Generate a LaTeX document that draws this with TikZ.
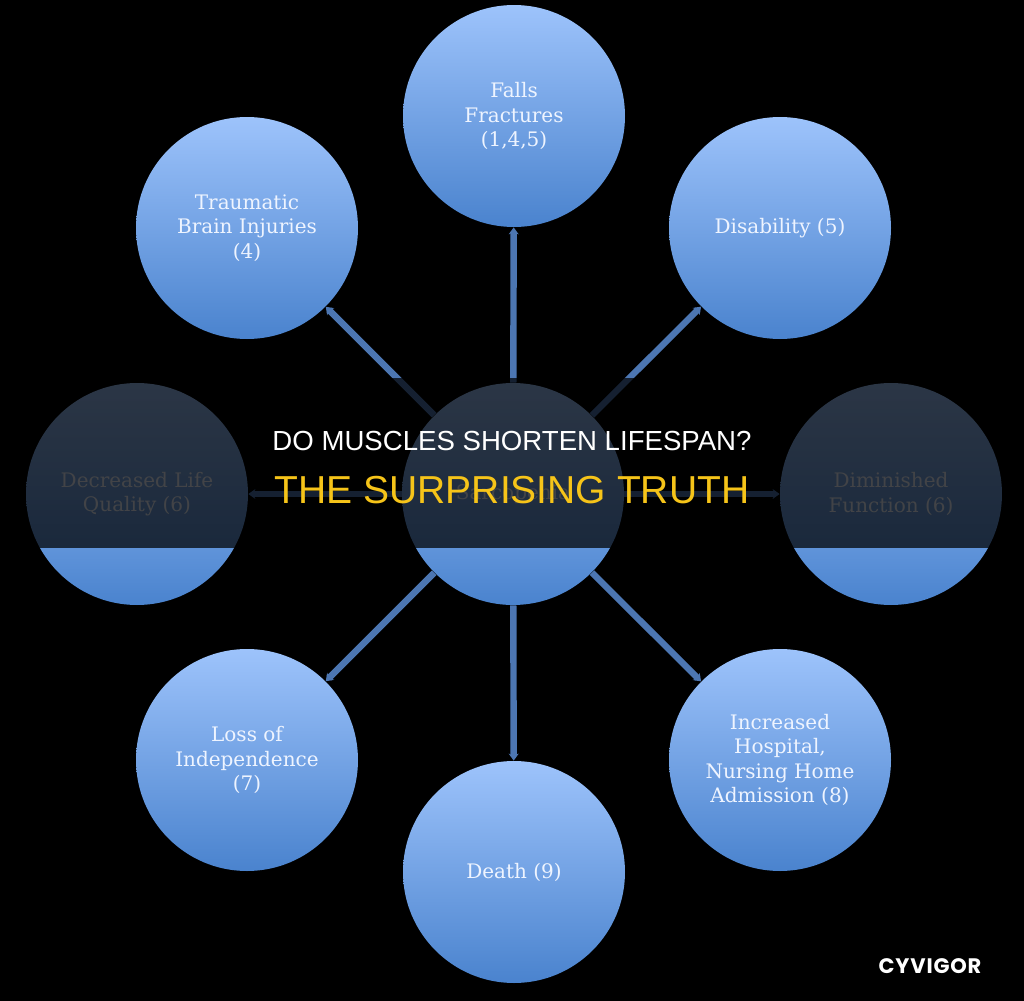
\documentclass[tikz,border=0pt]{standalone}
\usepackage{fontspec}
\setmainfont{DejaVu Serif}
\newfontfamily\titlefont{Liberation Sans}
\newfontfamily\markfont{Poppins}[LetterSpace=4]
\usetikzlibrary{arrows.meta}
\definecolor{bubbletop}{HTML}{9DC3FB}
\definecolor{bubblebot}{HTML}{4A83CE}
\definecolor{bubbletext}{HTML}{EEF4FF}
\definecolor{linkblue}{HTML}{4C76B2}
\definecolor{titleyellow}{HTML}{F6C419}

\begin{document}
\begin{tikzpicture}[x=0.5pt,y=-0.5pt,
    bubble/.style={circle, minimum size=111pt, inner sep=0pt,
      top color=bubbletop, bottom color=bubblebot, text=bubbletext,
      align=center, font=\fontsize{10}{12.2}\selectfont},
    link/.style={linkblue, line width=3.2pt, -{Stealth[length=3.5pt,width=5pt]}}]
  %——————————————————————————————————————————————
  % Fondo negro (fija el tamaño)
  %——————————————————————————————————————————————
  \fill[black] (0,0) rectangle (1024,1001);
  \useasboundingbox (0,0) rectangle (1024,1001);

  %——————————————————————————————————————————————
  % Círculo central y círculos alrededor
  %——————————————————————————————————————————————
  \node[bubble] (sarco) at (513,494) {Sarcopenia};
  \node[bubble] (falls) at (514,116) {Falls\\Fractures\\(1,4,5)};
  \node[bubble] (brain) at (247,228) {Traumatic\\Brain Injuries\\(4)};
  \node[bubble] (disab) at (780,228) {Disability (5)};
  \node[bubble] (quality) at (137,494) {Decreased Life\\Quality (6)};
  \node[bubble] (function) at (891,494) {Diminished\\Function (6)};
  \node[bubble] (indep) at (247,760) {Loss of\\Independence\\(7)};
  \node[bubble] (hospital) at (780,760) {Increased\\Hospital,\\Nursing Home\\Admission (8)};
  \node[bubble] (death) at (514,872) {Death (9)};

  %——————————————————————————————————————————————
  % Enlaces desde el centro
  %——————————————————————————————————————————————
  \foreach \n in {falls,brain,disab,quality,function,indep,hospital,death}
    \draw[link] (sarco) -- (\n);

  %——————————————————————————————————————————————
  % Franja oscura con el título
  %——————————————————————————————————————————————
  \fill[black, opacity=0.72] (0,378) rectangle (1024,548);
  \node[anchor=base, text=white, font=\titlefont\fontsize{13.8}{16}\selectfont]
    (title) at (512,450) {DO MUSCLES SHORTEN LIFESPAN?};
  \node[anchor=base, text=titleyellow, font=\titlefont\fontsize{19.5}{22}\selectfont]
    (subtitle) at (512,503) {THE SURPRISING TRUTH};

  % Marca de agua
  \node[anchor=base, text=white, font=\markfont\bfseries\fontsize{10.5}{12}\selectfont]
    (mark) at (930,973) {CYVIGOR};
\end{tikzpicture}
\end{document}
